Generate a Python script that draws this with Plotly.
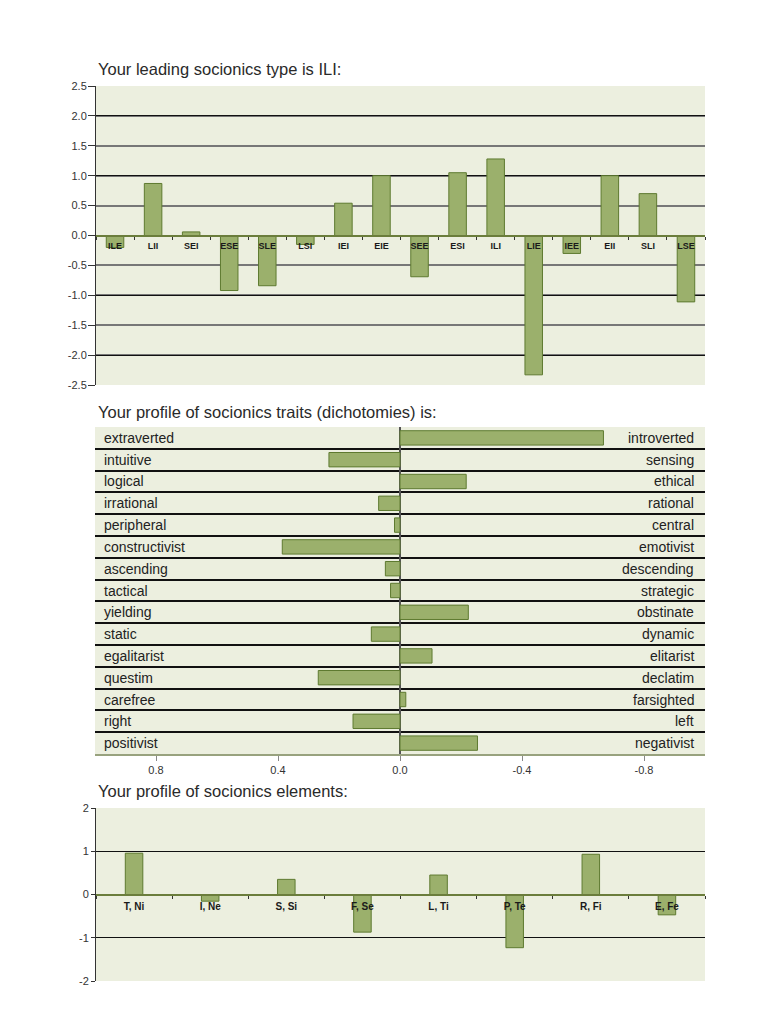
import plotly.graph_objects as go

# ---------------- data ----------------
types = ["ILE", "LII", "SEI", "ESE", "SLE", "LSI", "IEI", "EIE",
         "SEE", "ESI", "ILI", "LIE", "IEE", "EII", "SLI", "LSE"]
type_scores = [-0.20, 0.87, 0.06, -0.92, -0.84, -0.15, 0.54, 1.00,
               -0.69, 1.05, 1.28, -2.33, -0.30, 1.00, 0.70, -1.11]
type_ticks = [2.5, 2.0, 1.5, 1.0, 0.5, 0.0, -0.5, -1.0, -1.5, -2.0, -2.5]

traits_left = ["extraverted", "intuitive", "logical", "irrational", "peripheral",
               "constructivist", "ascending", "tactical", "yielding", "static",
               "egalitarist", "questim", "carefree", "right", "positivist"]
traits_right = ["introverted", "sensing", "ethical", "rational", "central",
                "emotivist", "descending", "strategic", "obstinate", "dynamic",
                "elitarist", "declatim", "farsighted", "left", "negativist"]
trait_scores = [-0.667, 0.233, -0.217, 0.070, 0.018, 0.386, 0.048, 0.031,
                -0.224, 0.094, -0.105, 0.268, -0.019, 0.154, -0.254]
trait_ticks = [0.8, 0.4, 0.0, -0.4, -0.8]

elements = ["T, Ni", "I, Ne", "S, Si", "F, Se", "L, Ti", "P, Te", "R, Fi", "E, Fe"]
element_scores = [0.955, -0.155, 0.35, -0.87, 0.45, -1.23, 0.93, -0.47]
element_ticks = [2, 1, 0, -1, -2]

titles = ["Your leading socionics type is ILI:",
          "Your profile of socionics traits (dichotomies) is:",
          "Your profile of socionics elements:"]

# ---------------- style ----------------
OFF = 8            # page body margin
W, H = 768 - OFF, 1024 - OFF
BG = "#ecefdf"
BAR = "#9bb06c"
EDGE = "#5e7a30"
OLIVE = "#6b7d3c"
FONT = "Liberation Sans"

def fx(px):
    return (px - OFF) / W

def fy(py):
    return 1 - (py - OFF) / H

top_dom_x = [fx(96), fx(705)]
mid_dom_x = [fx(95), fx(705)]
bot_dom_x = [fx(96), fx(705)]
top_dom_y = [fy(385), fy(86)]
mid_dom_y = [fy(754), fy(427)]
bot_dom_y = [fy(981), fy(808)]

def lbl(v, fmt):
    return format(v, fmt)

fig = go.Figure()

bar_style = dict(color=BAR, line=dict(color=EDGE, width=1))
fig.add_trace(go.Bar(x=types, y=type_scores, xaxis="x", yaxis="y",
                     marker=bar_style, width=0.46))
# invisible helper on the overlaid axis so that its tick labels get drawn
fig.add_trace(go.Scatter(x=types, y=type_scores, xaxis="x", yaxis="y4",
                         mode="none", hoverinfo="skip"))
fig.add_trace(go.Bar(x=trait_scores, y=traits_left, orientation="h",
                     xaxis="x2", yaxis="y2", marker=bar_style, width=0.66))
fig.add_trace(go.Bar(x=elements, y=element_scores, xaxis="x3", yaxis="y3",
                     marker=bar_style, width=0.23))

annotations = []
for t, py in zip(titles, [69, 412, 791]):
    annotations.append(dict(text=t, xref="paper", yref="paper", x=fx(96), y=fy(py),
                            xanchor="left", yanchor="middle", showarrow=False,
                            font=dict(family=FONT, size=16.5, color="#2a2a2a")))
for lab_l, lab_r in zip(traits_left, traits_right):
    annotations.append(dict(text=lab_l, xref="x2 domain", yref="y2", x=0.012, y=lab_l,
                            xanchor="left", yanchor="middle", showarrow=False,
                            font=dict(family=FONT, size=14, color="#222")))
    annotations.append(dict(text=lab_r, xref="x2 domain", yref="y2", x=0.985, y=lab_l,
                            xanchor="right", yanchor="middle", showarrow=False,
                            font=dict(family=FONT, size=14, color="#222")))

tickfont = dict(family=FONT, size=11, color="#333")
catfont_top = dict(family=FONT, size=9, color="#1a1a1a", weight="bold")
catfont_bot = dict(family=FONT, size=10, color="#1a1a1a", weight="bold")

fig.update_layout(
    template="none",
    width=W, height=H,
    margin=dict(l=0, r=0, t=0, b=0, pad=0),
    paper_bgcolor="white",
    plot_bgcolor=BG,
    showlegend=False,
    annotations=annotations,
    # ---- top chart ----
    xaxis=dict(domain=top_dom_x, anchor="free",
               position=(top_dom_y[0] + top_dom_y[1]) / 2,
               type="category", categoryorder="array", categoryarray=types,
               range=[-0.5, len(types) - 0.5],
               tickson="boundaries", ticks="outside", ticklen=3, tickcolor="#333",
               ticklabelstandoff=2,
               showline=True, linecolor=OLIVE, linewidth=2,
               showgrid=False, zeroline=False, tickfont=catfont_top, automargin=False),
    yaxis=dict(domain=top_dom_y, anchor="x", range=[-2.5, 2.5],
               tickmode="array", tickvals=[2.5, 2, 1, 0, -1, -2, -2.5],
               showticklabels=False, ticks="",
               showgrid=True, gridcolor="#111", gridwidth=1.3, zeroline=False,
               minor=dict(tickmode="linear", tick0=0, dtick=0.5, showgrid=True,
                          gridcolor="#777", gridwidth=1.6, ticks=""),
               showline=False, automargin=False),
    yaxis4=dict(overlaying="y", anchor="x", side="left", domain=top_dom_y,
                range=[-2.5, 2.5],
                tickmode="array", tickvals=type_ticks,
                ticktext=[lbl(v, ".1f") for v in type_ticks],
                ticks="outside", ticklen=7, tickcolor="#333",
                ticklabelstandoff=-1,
                showline=True, linecolor="#333", linewidth=1,
                showgrid=False, zeroline=False, tickfont=tickfont, automargin=False),
    # ---- middle chart ----
    xaxis2=dict(domain=mid_dom_x, anchor="y2", range=[1, -1],
                tickmode="array", tickvals=trait_ticks,
                ticktext=[lbl(v, ".1f") for v in trait_ticks],
                ticks="outside", ticklen=5, tickcolor="#888",
                showline=True, linecolor="#98a27e", linewidth=2,
                showgrid=False, zeroline=True, zerolinecolor="#555", zerolinewidth=1.5,
                tickfont=tickfont, automargin=False),
    yaxis2=dict(domain=mid_dom_y, anchor="x2", type="category",
                categoryorder="array", categoryarray=traits_left,
                range=[len(traits_left) - 0.5, -0.5],
                tickson="boundaries", showticklabels=False, ticks="",
                showgrid=True, gridcolor="#111", gridwidth=1.5, zeroline=False,
                automargin=False),
    # ---- bottom chart ----
    xaxis3=dict(domain=bot_dom_x, anchor="free",
                position=(bot_dom_y[0] + bot_dom_y[1]) / 2,
                type="category", categoryorder="array", categoryarray=elements,
                range=[-0.5, len(elements) - 0.5],
                tickson="boundaries", ticks="outside", ticklen=3, tickcolor="#333",
                ticklabelstandoff=2,
                showline=True, linecolor=OLIVE, linewidth=2,
                showgrid=False, zeroline=False, tickfont=catfont_bot, automargin=False),
    yaxis3=dict(domain=bot_dom_y, anchor="x3", range=[-2, 2],
                tickmode="array", tickvals=element_ticks,
                ticktext=[lbl(v, "d") for v in element_ticks],
                ticks="outside", ticklen=4, tickcolor="#333",
                showline=True, linecolor="#333", linewidth=1,
                showgrid=True, gridcolor="#111", gridwidth=1.3, zeroline=False,
                tickfont=tickfont, automargin=False),
)

fig.write_html("out.html")
